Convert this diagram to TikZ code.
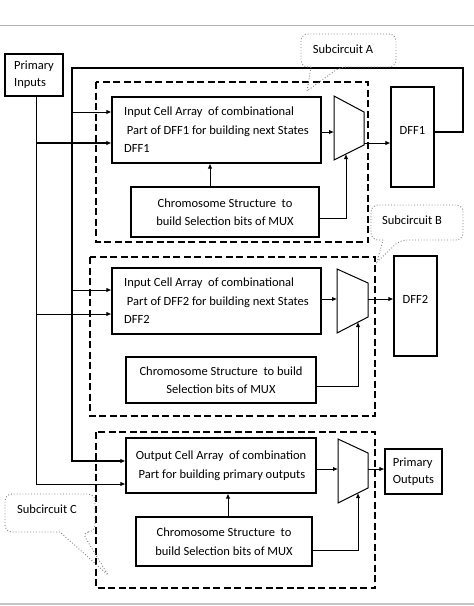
\documentclass[tikz,border=0pt]{standalone}
\usepackage{fontspec}
\setmainfont{Carlito}
\usetikzlibrary{arrows.meta}
\begin{document}
\begin{tikzpicture}[x=1pt,y=-1pt,
  font=\fontsize{12.5}{18.5}\selectfont,
  box/.style={draw, line width=1.1pt, inner sep=0pt},
  cellbox/.style={box, align=left},
  chrom/.style={box, align=center},
  small/.style={box, align=left, font=\fontsize{12.5}{17}\selectfont},
  sub/.style={draw, line width=1.1pt, dash pattern=on 7pt off 3.5pt},
  muxs/.style={draw, line width=1pt},
  conn/.style={line width=0.9pt},
  arr/.style={line width=0.9pt, -{Latex[length=5pt,width=4.5pt]}},
  fbarr/.style={line width=1.3pt, -{Latex[length=5pt,width=4.5pt]}},
  callout/.style={draw=gray, dotted, line width=0.9pt},
  lbl/.style={inner sep=0pt}]
\useasboundingbox (0,0) rectangle (474,606);

% page rules
\draw[gray!60, line width=0.8pt] (0,25) -- (474,25);
\draw[gray!45, line width=2pt] (0,604) -- (474,604);

% subcircuit frames
\draw[sub] (96,82) rectangle (368,242);
\draw[sub] (90,257) rectangle (375,416);
\draw[sub] (96,432) rectangle (375,588);

% boxes
\node[small, minimum width=58pt, minimum height=42pt] (pi) at (34,75) {Primary\\Inputs};

\node[cellbox, minimum width=209pt, minimum height=66pt] (ic1) at (216.5,130)
  {Input Cell Array~ of combinational\\\ Part of DFF1 for building next States\\DFF1};
\node[chrom, minimum width=188pt, minimum height=50pt] (cc1) at (225,212)
  {Chromosome Structure~ to\\build Selection bits of MUX};

\node[cellbox, minimum width=209pt, minimum height=66pt] (ic2) at (216.5,301)
  {Input Cell Array~ of combinational\\\ Part of DFF2 for building next States\\DFF2};
\node[chrom, minimum width=190pt, minimum height=46pt] (cc2) at (221,380)
  {Chromosome Structure~ to build\\Selection bits of MUX};

\node[cellbox, minimum width=190pt, minimum height=55pt, font=\fontsize{12.5}{19.5}\selectfont] (oc) at (221,465.5)
  {Output Cell Array~ of combination\\\ Part for building primary outputs};
\node[chrom, minimum width=176pt, minimum height=49pt] (cc3) at (224,541.5)
  {Chromosome Structure~ to\\build Selection bits of MUX};

\node[box, minimum width=43pt, minimum height=100pt] (dff1) at (412.5,137) {};
\node[lbl] (dff1l) at (412.5,130) {DFF1};
\node[box, minimum width=43pt, minimum height=100pt] (dff2) at (415.5,306) {};
\node[lbl] (dff2l) at (415.5,299) {DFF2};
\node[small, minimum width=57pt, minimum height=45pt] (po) at (413.5,471.5) {Primary\\Outputs};

% multiplexers
\coordinate (m1a) at (334,96);  \coordinate (m1b) at (364,112);
\coordinate (m1c) at (364,145); \coordinate (m1d) at (334,160);
\draw[muxs] (m1a) -- (m1b) -- (m1c) -- (m1d) -- cycle;
\coordinate (m1in) at (334,132); \coordinate (m1out) at (364,143); \coordinate (m1sel) at (346,154);

\coordinate (m2a) at (337,269); \coordinate (m2b) at (368,283);
\coordinate (m2c) at (368,317); \coordinate (m2d) at (337,333);
\draw[muxs] (m2a) -- (m2b) -- (m2c) -- (m2d) -- cycle;
\coordinate (m2in) at (337,299); \coordinate (m2out) at (368,299); \coordinate (m2sel) at (358,322);

\coordinate (m3a) at (338,439); \coordinate (m3b) at (368,453);
\coordinate (m3c) at (368,488); \coordinate (m3d) at (338,503);
\draw[muxs] (m3a) -- (m3b) -- (m3c) -- (m3d) -- cycle;
\coordinate (m3in) at (338,469); \coordinate (m3out) at (368,469); \coordinate (m3sel) at (358,493);

% data paths through muxes
\draw[arr] (ic1.east |- m1in) -- (m1in);
\draw[arr] (m1out) -- (dff1.west |- m1out);
\draw[arr] (ic2.east |- m2in) -- (m2in);
\draw[arr] (m2out) -- (dff2.west |- m2out);
\draw[arr] (oc.east |- m3in) -- (m3in);
\draw[arr] (m3out) -- (po.west |- m3out);

% select lines
\coordinate (s1) at (346,218);
\draw[arr] (cc1.east |- s1) -- (s1) -- (m1sel);
\coordinate (s2) at (358,386);
\draw[arr] (cc2.east |- s2) -- (s2) -- (m2sel);
\coordinate (s3) at (358,550);
\draw[arr] (cc3.east |- s3) -- (s3) -- (m3sel);

% chromosome to cell arrays
\coordinate (u1) at (210,0);
\draw[arr] (cc1.north -| u1) -- (ic1.south -| u1);
\coordinate (u3) at (228,0);
\draw[arr] (cc3.north -| u3) -- (oc.south -| u3);

% feedback from DFF1
\coordinate (fbA) at (463,132); \coordinate (fbB) at (463,68);
\coordinate (fbC) at (72,68);   \coordinate (fbD) at (72,461);
\draw[fbarr] (dff1.east |- fbA) -- (fbA) -- (fbB) -- (fbC) -- (fbD) -- (oc.west |- fbD);
\coordinate (fb1) at (72,112); \coordinate (fb2) at (72,290);
\draw[arr] (fb1) -- (ic1.west |- fb1);
\draw[arr] (fb2) -- (ic2.west |- fb2);

% primary inputs
\coordinate (piv) at (36,484);
\draw[arr] (pi.south -| piv) -- (piv) -- (oc.west |- piv);
\coordinate (pb1) at (36,143); \coordinate (pb2) at (36,314);
\draw[fbarr] (pb1) -- (ic1.west |- pb1);
\draw[arr] (pb2) -- (ic2.west |- pb2);

% callouts
\draw[callout] (311,67) [rounded corners=7pt] -- (301,67) -- (301,34) -- (396,34) -- (396,67) -- (340,67) [sharp corners] -- (307,91) -- cycle;
\node[lbl] (ca) at (343,49) {Subcircuit A};
\draw[callout] (383,240) [rounded corners=7pt] -- (371,240) -- (371,205) -- (463,205) -- (463,240) -- (400,240) [sharp corners] -- (377,262) -- cycle;
\node[lbl] (cb) at (412,220) {Subcircuit B};
\draw[callout] (60,532) [rounded corners=7pt] -- (5,532) -- (5,494) -- (95,494) -- (95,532) -- (82,532) [sharp corners] -- (108,575) -- cycle;
\node[lbl] (cc) at (47,509) {Subcircuit C};
\end{tikzpicture}
\end{document}
